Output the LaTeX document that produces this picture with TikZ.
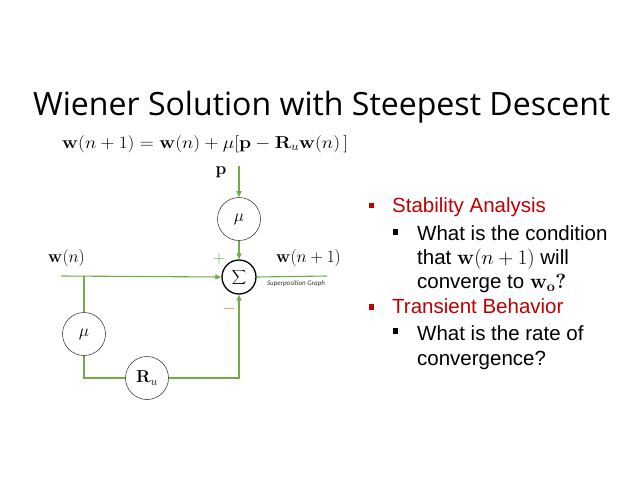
\documentclass[tikz,border=0pt]{standalone}
\usepackage[no-math]{fontspec}
\usepackage{graphicx}
\setmainfont{Carlito}
\newfontfamily\arialf{Liberation Sans}
\newfontfamily\lmfont{Latin Modern Roman}
\newfontfamily\titlefont[Ligatures=NoCommon]{Open Sans}
\usetikzlibrary{arrows.meta}
\definecolor{lgreen}{RGB}{112,173,71}
\definecolor{dred}{RGB}{192,0,0}
\definecolor{morange}{RGB}{237,125,49}
\begin{document}
\begin{tikzpicture}[x=1pt,y=-1pt,
  circ/.style={draw=black!75, circle, minimum size=43pt, inner sep=0pt, line width=0.6pt, font=\fontsize{17}{20}\selectfont},
  sumc/.style={draw=black, circle, minimum size=34pt, inner sep=0pt, line width=1.3pt, font=\fontsize{17}{20}\selectfont},
  wire/.style={draw=lgreen, line width=1.1pt},
  arr/.style={wire, -{Triangle[length=6pt,width=5pt]}},
  lbl/.style={font=\fontsize{17}{20}\selectfont, inner sep=0pt},
  btxt/.style={font=\arialf\fontsize{20.5}{24}\selectfont, inner sep=0pt, anchor=base west},
  rbul/.style={fill=dred, minimum size=5.5pt, inner sep=0pt},
  kbul/.style={fill=black, minimum size=5.5pt, inner sep=0pt},
]
\useasboundingbox[fill=white] (0,0) rectangle (638,493);

\node[anchor=base west, inner sep=0pt] (title) at (33,115) {\resizebox{577pt}{!}{\titlefont\fontsize{36}{40}\selectfont Wiener Solution with Steepest Descent}};
\node[anchor=base west, inner sep=0pt, font=\fontsize{18.5}{21}\selectfont] (eq) at (62,148) {\resizebox{286pt}{\height}{$\mathbf{w}(n+1)=\mathbf{w}(n)+\mu[\mathbf{p}-\mathbf{R}_u\mathbf{w}(n)\,]$}};

% diagram
\node[circ] (mu1) at (239,219) {$\mu$};
\node[sumc] (sum) at (239,277) {$\displaystyle\sum$};
\node[circ] (mu2) at (84,334) {$\mu$};
\node[circ] (ru) at (147,378) {$\mathbf{R}_u$};

\node[lbl, anchor=base] (plbl) at (221,174) {$\mathbf{p}$};
\coordinate (ptop) at (239,166);
\node[lbl, anchor=base west] (wn) at (48,262) {$\mathbf{w}(n)$};
\node[lbl, anchor=base west] (wn1) at (276,262) {$\mathbf{w}(n+1)$};
\node[lbl, text=lgreen, anchor=base] (plus) at (219,263) {$+$};
\node[lbl, text=morange, anchor=base] (minus) at (229,313) {$-$};

\coordinate (win) at (61,276);
\coordinate (br) at (84,276);
\coordinate (wout) at (327,276);
\node[font=\itshape\fontsize{7}{8}\selectfont, inner sep=0pt, text=black!80] (note) at (296,284) {Superposition Graph};

\draw[arr] (ptop) -- (mu1.north);
\draw[arr] (mu1.south) -- (sum.north);
\draw[arr] (win) -- (sum.west);
\draw[wire] (br) -- (mu2.north);
\draw[wire] (mu2.south) |- (ru.west);
\draw[arr] (ru.east) -| (sum.south);
\draw[wire] (sum.east) -- (wout);

% bullets
\node[rbul] (b1) at (371.5,205.5) {};
\node[btxt, text=dred] (t1) at (392,212) {Stability Analysis};
\node[kbul] (b2) at (395.5,232) {};
\node[btxt] (t2) at (417,240) {What is the condition};
\node[btxt] (t3) at (417,264) {that $\mathbf{w}(n+1)$ will};
\node[btxt] (t4) at (417,288) {converge to $\mathbf{w_o}${\lmfont\bfseries ?}};
\node[rbul] (b3) at (371.5,307) {};
\node[btxt, text=dred] (t5) at (392,313) {Transient Behavior};
\node[kbul] (b4) at (395.5,331) {};
\node[btxt] (t6) at (417,340) {What is the rate of};
\node[btxt] (t7) at (417,365) {convergence?};
\end{tikzpicture}
\end{document}
